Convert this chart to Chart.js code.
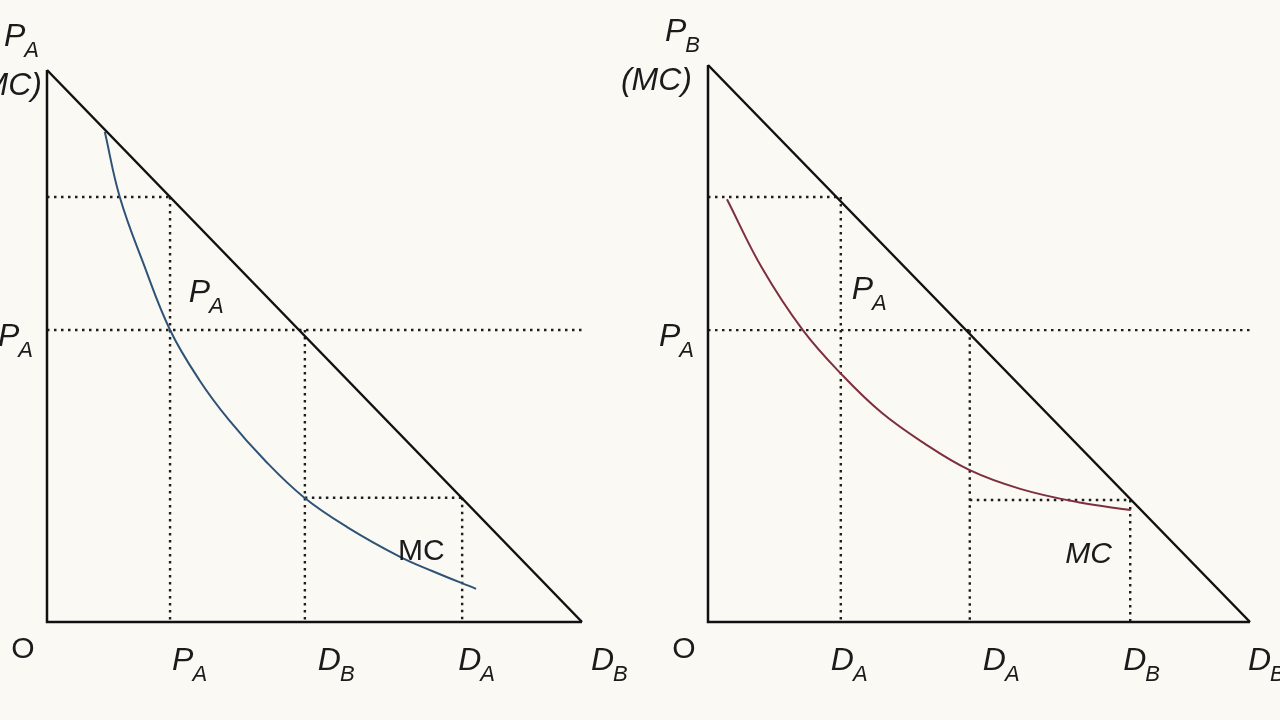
<!DOCTYPE html>
<html>
<head>
<meta charset="utf-8">
<script src="https://cdn.jsdelivr.net/npm/chart.js@4.4.0/dist/chart.umd.min.js"></script>
<style>
  html, body { margin: 0; padding: 0; background: #fbf9f4; }
  #wrap { position: relative; width: 1280px; height: 720px; overflow: hidden; }
  canvas { position: absolute; top: 0; }
</style>
</head>
<body>
<div id="wrap">
  <canvas id="left" width="640" height="720" style="left:0"></canvas>
  <canvas id="right" width="680" height="720" style="left:600px"></canvas>
</div>
<script>
// data (quantity 0-100 on x, price 0-100 on y)
const demandQ = [0, 100];
const demandP = [100, 0];

// left panel
const leftGuideQ = [23.0, 48.2, 77.6];
const leftGuideP = [77.0, 52.9, 22.5];
const leftMcQ = [10.8, 13.6, 18.0, 23.0, 28.5, 34.0, 40.7, 48.0, 56.1, 66.0, 72.1, 80.2];
const leftMcP = [88.8, 77.0, 65.0, 52.9, 43.8, 36.6, 29.3, 22.6, 17.2, 11.8, 9.2, 6.0];
const leftXTicks = [23.0, 48.2, 77.6, 100];
const leftXLabels = [['P', 'A'], ['D', 'B'], ['D', 'A'], ['D', 'B']];
const leftYTicks = [52.9, 100];
const leftYLabels = [['P', 'A'], ['P', 'A']];

// right panel
const rightGuideQ = [24.5, 48.3, 77.9];
const rightGuideP = [76.3, 52.4, 21.9];
const rightMcQ = [3.5, 10.0, 17.5, 24.9, 32.0, 39.7, 48.2, 57.6, 68.3, 78.0];
const rightMcP = [75.9, 63.5, 52.4, 44.2, 37.6, 32.2, 27.3, 23.9, 21.5, 20.1];
const rightXTicks = [24.5, 48.3, 77.9, 100];
const rightXLabels = [['D', 'A'], ['D', 'A'], ['D', 'B'], ['D', 'B']];
const rightYTicks = [52.4, 100];
const rightYLabels = [['P', 'A'], ['P', 'B']];

// small pixel nudges for the x labels, as drawn in the picture
const leftXNudge = [2, 13, -4, 9];
const rightXNudge = [-10, 13, -7, -2];

const FONT = '"Liberation Sans", Arial, sans-serif';
const INK = '#1b1b1b';

function pts(q, p) {
    return q.map((v, i) => ({ x: v, y: p[i] }));
}

function line(data, color, width, dash) {
    return {
        data: data,
        showLine: true,
        borderColor: color,
        borderWidth: width,
        borderDash: dash || [],
        borderCapStyle: 'butt',
        borderJoinStyle: 'miter',
        pointRadius: 0,
        clip: false,
        tension: 0
    };
}

function guides(q, p) {
    const dot = [2.5, 4.5];
    const c = '#1e1e1e';
    const w = 2.4;
    return [
        line(pts([0, q[0]], [p[0], p[0]]), c, w, dot),
        line(pts([q[0], q[0]], [p[0], 0]), c, w, dot),
        line(pts([0, 100], [p[1], p[1]]), c, w, dot),
        line(pts([q[1], q[1]], [p[1], 0]), c, w, dot),
        line(pts([q[1], q[2]], [p[2], p[2]]), c, w, dot),
        line(pts([q[2], q[2]], [p[2], 0]), c, w, dot)
    ];
}

// text with a subscript
function subText(ctx, x, y, main, sub, align) {
    ctx.font = 'italic 32px ' + FONT;
    const w1 = ctx.measureText(main).width;
    ctx.font = 'italic 22px ' + FONT;
    const w2 = ctx.measureText(sub).width;
    let sx = x;
    if (align === 'right') sx = x - w1 - w2 + 1;
    ctx.font = 'italic 32px ' + FONT;
    ctx.fillText(main, sx, y);
    ctx.font = 'italic 22px ' + FONT;
    ctx.fillText(sub, sx + w1 - 1, y + 11);
}

function labelPlugin(cfg) {
    return {
        id: 'labels',
        afterDatasetsDraw(chart) {
            const ctx = chart.ctx;
            const xs = chart.scales.x, ys = chart.scales.y;
            const x0 = xs.getPixelForValue(0), y0 = ys.getPixelForValue(0);
            ctx.save();
            ctx.fillStyle = INK;
            ctx.textAlign = 'left';
            ctx.textBaseline = 'alphabetic';
            // x tick labels
            cfg.xTicks.forEach((v, i) => {
                const [m, s] = cfg.xLabels[i];
                subText(ctx, xs.getPixelForValue(v) + cfg.xNudge[i], y0 + 48, m, s);
            });
            // y tick labels (mid price) and the top label
            const yMid = ys.getPixelForValue(cfg.yTicks[0]);
            subText(ctx, x0 - 14, yMid + 16, cfg.yLabels[0][0], cfg.yLabels[0][1], 'right');
            const yTop = ys.getPixelForValue(cfg.yTicks[1]);
            subText(ctx, x0 - 8, yTop - 24, cfg.yLabels[1][0], cfg.yLabels[1][1], 'right');
            ctx.font = 'italic 32px ' + FONT;
            ctx.textAlign = 'right';
            ctx.fillText('(MC)', x0 + cfg.mcParen, yTop + 25);
            // origin
            ctx.textAlign = 'center';
            ctx.font = '30px ' + FONT;
            ctx.fillText('O', x0 - 24, y0 + 36);
            ctx.textAlign = 'left';
            // inner price label
            subText(ctx, xs.getPixelForValue(26.5), ys.getPixelForValue(58), 'P', 'A');
            // MC curve label
            ctx.font = (cfg.mcItalic ? 'italic ' : '') + '30px ' + FONT;
            ctx.fillText('MC', xs.getPixelForValue(cfg.mcAt[0]), ys.getPixelForValue(cfg.mcAt[1]));
            ctx.restore();
        }
    };
}

function makePanel(id, cfg) {
    const datasets = [
        line(pts([0, 0, 100], [100, 0, 0]), '#111', 2.5),
        line(pts(demandQ, demandP), '#111', 2.5),
        Object.assign(line(pts(cfg.mcQ, cfg.mcP), cfg.mcColor, 2), { tension: 0.4 })
    ].concat(guides(cfg.guideQ, cfg.guideP));

    new Chart(document.getElementById(id), {
        type: 'scatter',
        data: { datasets: datasets },
        options: {
            responsive: false,
            animation: false,
            devicePixelRatio: 1,
            layout: { padding: cfg.pad },
            plugins: { legend: { display: false }, tooltip: { enabled: false } },
            scales: {
                x: { type: 'linear', min: 0, max: 100, display: false },
                y: { type: 'linear', min: 0, max: 100, display: false }
            }
        },
        plugins: [labelPlugin(cfg)]
    });
}

makePanel('left', {
    pad: { left: 47, right: 58, top: 70, bottom: 98 },
    guideQ: leftGuideQ, guideP: leftGuideP,
    mcQ: leftMcQ, mcP: leftMcP, mcColor: '#2f5376',
    xTicks: leftXTicks, xLabels: leftXLabels, xNudge: leftXNudge,
    yTicks: leftYTicks, yLabels: leftYLabels,
    mcParen: -5, mcAt: [65.6, 11.2], mcItalic: false
});

makePanel('right', {
    pad: { left: 108, right: 30, top: 65, bottom: 98 },
    guideQ: rightGuideQ, guideP: rightGuideP,
    mcQ: rightMcQ, mcP: rightMcP, mcColor: '#7e2f3d',
    xTicks: rightXTicks, xLabels: rightXLabels, xNudge: rightXNudge,
    yTicks: rightYTicks, yLabels: rightYLabels,
    mcParen: -16, mcAt: [65.9, 10.6], mcItalic: true
});
</script>
</body>
</html>
